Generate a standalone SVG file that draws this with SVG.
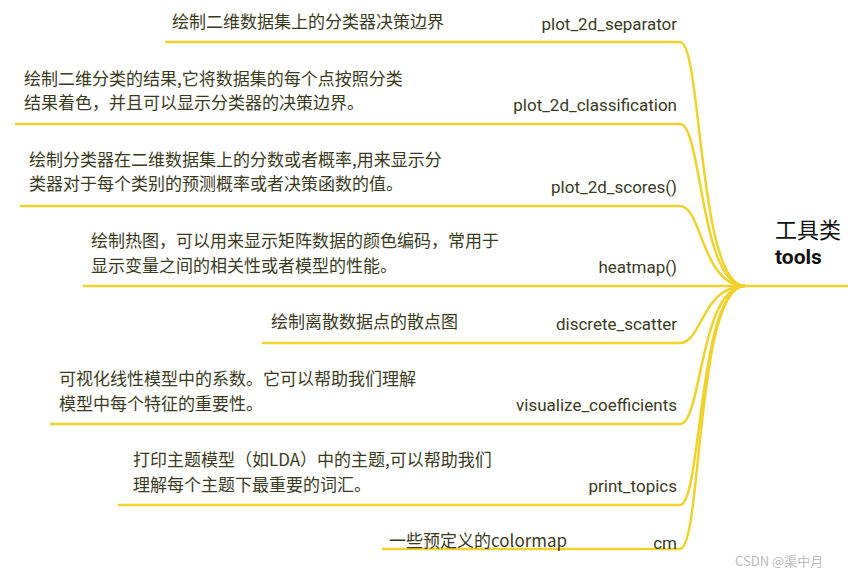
<svg xmlns="http://www.w3.org/2000/svg" width="848" height="576" viewBox="0 0 848 576">
<style>
.d{font-family:"Noto Sans CJK SC","Noto Sans",sans-serif;font-size:17px;fill:#3a3a1e}
.l{font-family:Roboto,"Liberation Sans",sans-serif;font-size:17px;fill:#3a3a1e;text-anchor:end}
.c path{fill:none;stroke:#f0d22c;stroke-width:2.5}
</style>
<rect width="848" height="576" fill="#fff"/>
<g class="c" id="connectors">
<path d="M165 42 H680 C702 42 698 286 745 286"/>
<path d="M15 124 H680 C702 124 700 286 745 286"/>
<path d="M20 206 H680 C702 206 702 286 745 286"/>
<path d="M83 286 H848"/>
<path d="M262 343 H680 C702 343 702 286 745 286"/>
<path d="M50 424 H680 C702 424 700 286 745 286"/>
<path d="M118 505 H680 C702 505 698 286 745 286"/>
<path d="M382 549 H680 C702 549 696 286 745 286"/>
</g>
<g id="root"><text x="775" y="238" font-family="Noto Sans CJK SC,sans-serif" font-size="22" fill="#111">工具类</text><text x="775" y="264" font-family="Roboto,Liberation Sans,sans-serif" font-size="21" font-weight="bold" fill="#111">tools</text></g>
<g id="n1"><text class="d" x="172" y="28">绘制二维数据集上的分类器决策边界</text><text class="l" x="677" y="30">plot_2d_separator</text></g>
<g id="n2"><text class="d" x="24" y="85">绘制二维分类的结果,它将数据集的每个点按照分类</text><text class="d" x="24" y="109">结果着色，并且可以显示分类器的决策边界。</text><text class="l" x="677" y="111">plot_2d_classification</text></g>
<g id="n3"><text class="d" x="29" y="166">绘制分类器在二维数据集上的分数或者概率,用来显示分</text><text class="d" x="29" y="190">类器对于每个类别的预测概率或者决策函数的值。</text><text class="l" x="677" y="193">plot_2d_scores()</text></g>
<g id="n4"><text class="d" x="91" y="247">绘制热图，可以用来显示矩阵数据的颜色编码，常用于</text><text class="d" x="91" y="272">显示变量之间的相关性或者模型的性能。</text><text class="l" x="677" y="273">heatmap()</text></g>
<g id="n5"><text class="d" x="271" y="328">绘制离散数据点的散点图</text><text class="l" x="677" y="330">discrete_scatter</text></g>
<g id="n6"><text class="d" x="59" y="385">可视化线性模型中的系数。它可以帮助我们理解</text><text class="d" x="59" y="410">模型中每个特征的重要性。</text><text class="l" x="677" y="411">visualize_coefficients</text></g>
<g id="n7"><text class="d" x="133" y="466">打印主题模型（如LDA）中的主题,可以帮助我们</text><text class="d" x="133" y="491">理解每个主题下最重要的词汇。</text><text class="l" x="677" y="492">print_topics</text></g>
<g id="n8"><text class="d" x="389" y="547">一些预定义的colormap</text><text class="l" x="677" y="549">cm</text></g>
<text x="735" y="566" font-family="Noto Sans CJK SC,sans-serif" font-size="13" fill="#bbb">CSDN @渠中月</text>
</svg>
